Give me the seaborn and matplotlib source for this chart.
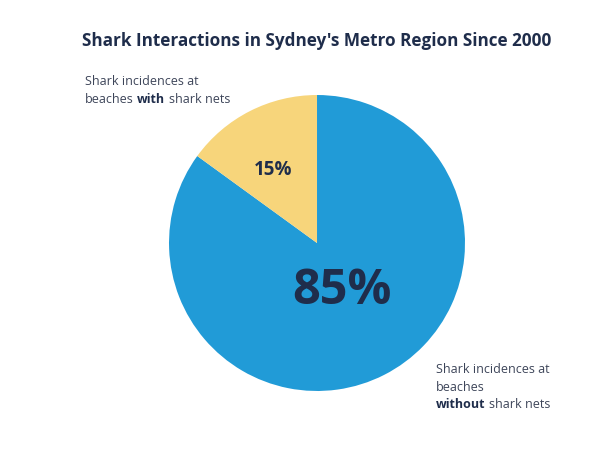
import matplotlib
matplotlib.use('Agg')
import matplotlib.pyplot as plt
import seaborn as sns
from matplotlib.offsetbox import TextArea, HPacker, VPacker, AnchoredOffsetbox

# Data
groups = ['without shark nets', 'with shark nets']
shares = [85, 15]
pct_labels = ['85%', '15%']
colors = ['#219bd7', '#f7d57b']

sns.set_theme(style='white')
plt.rcParams['font.family'] = ['Open Sans', 'DejaVu Sans']

navy = '#1f2d4b'
grey = '#3d4559'

fig = plt.figure(figsize=(6, 4.5), dpi=100)
fig.patch.set_facecolor('white')
ax = fig.add_axes([0.2817, 0.1311, 0.4933, 0.6578])

wedges, _ = ax.pie(shares, colors=colors, startangle=90, counterclock=False,
                   wedgeprops=dict(linewidth=0))
ax.set_xlim(-1, 1)
ax.set_ylim(-1, 1)
ax.set_aspect('equal')

# percentage labels
ax.text(0.17, -0.33, pct_labels[0], ha='center', va='center', fontsize=35,
        fontweight='bold', color=navy)
ax.text(-0.30, 0.49, pct_labels[1], ha='center', va='center', fontsize=13.5,
        fontweight='bold', color=navy)

fig.text(0.527, 0.91, "Shark Interactions in Sydney's Metro Region Since 2000",
         ha='center', va='center', fontsize=12.3, fontweight='bold', color=navy)


def label_block(lines, x, y):
    rows = []
    for parts in lines:
        kids = [TextArea(t, textprops=dict(fontsize=9, color=navy if b else grey,
                                           fontweight='bold' if b else 'normal'))
                for t, b in parts]
        rows.append(HPacker(children=kids, pad=0, sep=2.6, align='baseline'))
    box = VPacker(children=rows, pad=0, sep=3.5, align='left')
    anchored = AnchoredOffsetbox(loc='upper left', child=box, pad=0, borderpad=0,
                                 frameon=False, bbox_to_anchor=(x, y),
                                 bbox_transform=fig.transFigure)
    fig.add_artist(anchored)


label_block([[('Shark incidences at', False)],
             [('beaches', False), ('with', True), ('shark nets', False)]],
            0.141, 0.834)
label_block([[('Shark incidences at', False)],
             [('beaches', False)],
             [('without', True), ('shark nets', False)]],
            0.727, 0.194)

fig.savefig('out.png', dpi=100)
